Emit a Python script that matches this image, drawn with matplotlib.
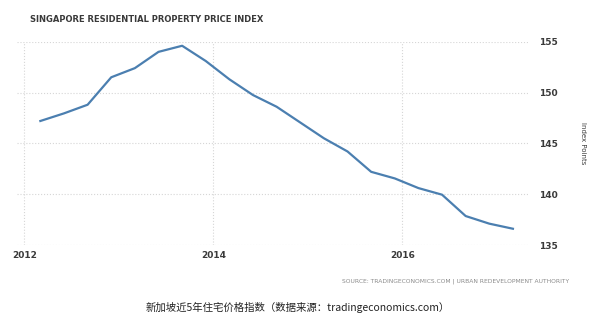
import matplotlib.pyplot as plt
from matplotlib.ticker import FixedLocator

# quarterly index, Q1 2012 .. Q1 2017 (plotted at start of quarter's last month)
dates = [2012.17 + 0.25 * i for i in range(21)]
values = [147.2, 147.95, 148.8, 151.5, 152.4, 154.0, 154.6, 153.1, 151.3, 149.75,
          148.6, 147.05, 145.5, 144.2, 142.2, 141.55, 140.6, 139.95, 137.85, 137.1, 136.6]

x_ticks = [2012, 2014, 2016]
y_ticks = [135, 140, 145, 150, 155]

line_color = '#4b7fb0'
grid_color = '#d6d6d6'
text_color = '#3a3a3a'

fig = plt.figure(figsize=(5.97, 3.24), dpi=100)
ax = fig.add_axes([0.0285, 0.2438, 0.856, 0.6275])

ax.plot(dates, values, color=line_color, linewidth=1.6, solid_joinstyle='round')

ax.set_xlim(2011.923, 2017.33)
ax.set_ylim(135, 155)
ax.xaxis.set_major_locator(FixedLocator(x_ticks))
ax.yaxis.set_major_locator(FixedLocator(y_ticks))
ax.set_xticklabels([str(t) for t in x_ticks])
ax.yaxis.tick_right()
ax.grid(True, color=grid_color, linestyle=':', linewidth=0.8)
for s in ax.spines.values():
    s.set_visible(False)
ax.tick_params(axis='both', length=0, labelsize=6.5, labelcolor=text_color)
ax.tick_params(axis='y', pad=8)
ax.tick_params(axis='x', pad=4)
for lbl in ax.get_xticklabels() + ax.get_yticklabels():
    lbl.set_fontweight('bold')

ax.set_ylabel('Index Points', rotation=270, fontsize=5, color=text_color, labelpad=20)
ax.yaxis.set_label_position('right')

fig.text(30 / 597, 1 - 20 / 324, 'SINGAPORE RESIDENTIAL PROPERTY PRICE INDEX',
         fontsize=6, color=text_color, va='center', ha='left',
         family=['Liberation Sans Narrow', 'DejaVu Sans'], fontweight='bold')
fig.text(569 / 597, 1 - 281 / 324,
         'SOURCE: TRADINGECONOMICS.COM | URBAN REDEVELOPMENT AUTHORITY',
         fontsize=4.3, color='#8a8a8a', ha='right', va='center',
         family=['Liberation Sans Narrow', 'DejaVu Sans'])
fig.text(298 / 597, 1 - 307 / 324,
         '新加坡近5年住宅价格指数（数据来源：tradingeconomics.com）',
         fontsize=7.5, color='#222222', ha='center', va='center',
         family=['Noto Sans CJK SC', 'DejaVu Sans'])

fig.savefig('out.png', dpi=100)
